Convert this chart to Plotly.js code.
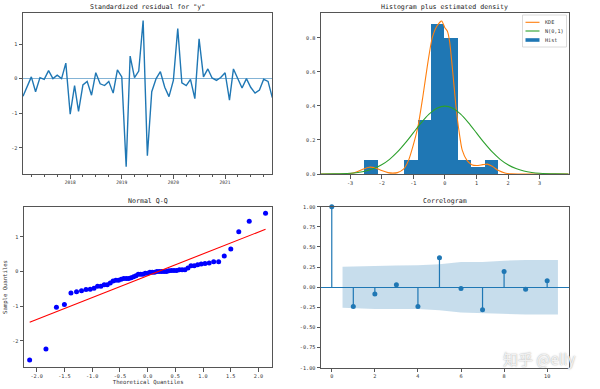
<!DOCTYPE html>
<html>
<head>
<meta charset="utf-8">
<script src="https://cdn.plot.ly/plotly-3.0.1.min.js"></script>
<style>html,body{margin:0;padding:0;background:#fff;}#chart{width:600px;height:389px;}</style>
</head>
<body>
<div id="chart"></div>
<script>
// ---------- Data ----------
const residDates = [
  '2017-02-01','2017-03-01','2017-04-01','2017-05-01','2017-06-01','2017-07-01','2017-08-01','2017-09-01','2017-10-01','2017-11-01','2017-12-01',
  '2018-01-01','2018-02-01','2018-03-01','2018-04-01','2018-05-01','2018-06-01','2018-07-01','2018-08-01','2018-09-01','2018-10-01','2018-11-01','2018-12-01',
  '2019-01-01','2019-02-01','2019-03-01','2019-04-01','2019-05-01','2019-06-01','2019-07-01','2019-08-01','2019-09-01','2019-10-01','2019-11-01','2019-12-01',
  '2020-01-01','2020-02-01','2020-03-01','2020-04-01','2020-05-01','2020-06-01','2020-07-01','2020-08-01','2020-09-01','2020-10-01','2020-11-01','2020-12-01',
  '2021-01-01','2021-02-01','2021-03-01','2021-04-01','2021-05-01','2021-06-01','2021-07-01','2021-08-01','2021-09-01','2021-10-01','2021-11-01','2021-12-01'
];
const residValues = [
  -0.51,-0.22,0.05,-0.38,0.03,-0.02,0.23,0.00,0.10,0.00,0.45,
  -1.03,-0.20,-0.95,-0.18,-0.08,-0.48,0.17,-0.15,-0.20,-0.08,-0.42,0.25,
  0.05,-2.55,0.65,0.03,0.22,1.68,-2.23,-0.38,0.00,0.20,-0.25,-0.52,
  -0.05,1.45,-0.12,-0.20,-0.02,-0.58,1.15,0.05,0.28,0.02,-0.05,0.03,
  0.17,-0.62,0.28,0.00,-0.27,0.00,-0.25,-0.42,-0.33,-0.02,-0.08,-0.55
];
const residTickVals = ['2018-01-01','2019-01-01','2020-01-01','2021-01-01'];
const residTickText = ['2018','2019','2020','2021'];

// Histogram (density) bins
const histCenters = [-2.338,-1.916,-1.493,-1.070,-0.647,-0.224,0.200,0.623,1.046,1.469];
const histHeights = [0.08,0.0,0.0,0.08,0.32,0.88,0.80,0.08,0.04,0.08];
const histBinWidth = 0.423;
// KDE curve
const kdeX = [-3.92,-3.4,-3.0,-2.8,-2.6,-2.4,-2.2,-2.0,-1.8,-1.65,-1.5,-1.3,-1.15,-1.0,-0.85,-0.7,-0.55,-0.4,-0.25,-0.1,0.0,0.08,0.15,0.25,0.35,0.45,0.55,0.7,0.85,1.0,1.2,1.35,1.5,1.7,1.9,2.1,2.5,3.0,3.92];
const kdeY = [0.0,0.0,0.003,0.012,0.028,0.040,0.036,0.020,0.008,0.005,0.008,0.03,0.08,0.17,0.28,0.45,0.64,0.80,0.87,0.90,0.86,0.84,0.78,0.60,0.40,0.25,0.14,0.08,0.055,0.05,0.055,0.058,0.045,0.02,0.006,0.001,0.0,0.0,0.0];
// N(0,1) curve
const normX = [-3.92,-3.5,-3.0,-2.75,-2.5,-2.25,-2.0,-1.75,-1.5,-1.25,-1.0,-0.75,-0.5,-0.25,0.0,0.25,0.5,0.75,1.0,1.25,1.5,1.75,2.0,2.25,2.5,2.75,3.0,3.5,3.92];
const normY = [0.0002,0.0009,0.0044,0.0091,0.0175,0.0317,0.054,0.0863,0.1295,0.1826,0.242,0.3011,0.3521,0.3867,0.3989,0.3867,0.3521,0.3011,0.242,0.1826,0.1295,0.0863,0.054,0.0317,0.0175,0.0091,0.0044,0.0009,0.0002];
const legendLabels = ['KDE', 'N(0,1)', 'Hist'];

// Normal Q-Q
const qqTheoretical = [-2.128,-1.834,-1.645,-1.501,-1.383,-1.282,-1.192,-1.111,-1.036,-0.967,-0.903,-0.842,-0.783,-0.728,-0.674,-0.623,-0.573,-0.524,-0.477,-0.431,-0.385,-0.341,-0.297,-0.253,-0.210,-0.168,-0.126,-0.084,-0.042,0.0,
  0.042,0.084,0.126,0.168,0.210,0.253,0.297,0.341,0.385,0.431,0.477,0.524,0.573,0.623,0.674,0.728,0.783,0.842,0.903,0.967,1.036,1.111,1.192,1.282,1.383,1.501,1.645,1.834,2.128];
const qqSample = [-2.55,-2.23,-1.03,-0.95,-0.62,-0.58,-0.55,-0.52,-0.51,-0.48,-0.42,-0.42,-0.38,-0.38,-0.33,-0.27,-0.25,-0.25,-0.22,-0.20,-0.20,-0.20,-0.18,-0.15,-0.12,-0.08,-0.08,-0.08,-0.05,-0.05,
  -0.02,-0.02,-0.02,0.00,0.00,0.00,0.00,0.00,0.02,0.03,0.03,0.03,0.05,0.05,0.05,0.10,0.17,0.17,0.20,0.22,0.23,0.25,0.28,0.28,0.45,0.65,1.15,1.45,1.68];
const qqLineX = [-2.128, 2.128];
const qqLineY = [-1.46, 1.22];

// Correlogram
const acfLags = [0,1,2,3,4,5,6,7,8,9,10];
const acfValues = [1.0,-0.241,-0.083,0.029,-0.241,0.366,-0.017,-0.279,0.196,-0.025,0.079];
const confX = [0.5,2,3,4,5,6,7,8,9,10.5];
const confUpper = [0.255,0.270,0.271,0.272,0.285,0.314,0.314,0.330,0.338,0.338];

// ---------- Styling ----------
const C0 = '#1f77b4';
const ORANGE = '#ff7f0e', GREEN = '#2ca02c';
const FONT = 'DejaVu Sans Mono, Liberation Mono, monospace';
const tickFont = {family: FONT, size: 5.2, color: '#333'};
const axisBase = {
  showgrid: false, zeroline: false, showline: true, mirror: true,
  linecolor: '#555', linewidth: 1, ticks: 'outside', ticklen: 3.5,
  tickcolor: '#555', tickwidth: 1, tickfont: tickFont, fixedrange: true
};
function ax(o) { return Object.assign({}, axisBase, o); }
function fmt(v, d) { return v.toFixed(d); }

// ---------- Traces ----------
const traces = [];
traces.push({
  type: 'scatter', mode: 'lines', x: residDates, y: residValues,
  xaxis: 'x', yaxis: 'y', line: {color: C0, width: 1.4}, showlegend: false
});
traces.push({
  type: 'bar', x: histCenters, y: histHeights, width: histBinWidth,
  xaxis: 'x2', yaxis: 'y2', marker: {color: C0, line: {width: 0}},
  name: legendLabels[2], showlegend: false
});
traces.push({
  type: 'scatter', mode: 'lines', x: kdeX, y: kdeY, xaxis: 'x2', yaxis: 'y2',
  line: {color: ORANGE, width: 1.1, shape: 'spline', smoothing: 0.6},
  name: legendLabels[0], showlegend: false
});
traces.push({
  type: 'scatter', mode: 'lines', x: normX, y: normY, xaxis: 'x2', yaxis: 'y2',
  line: {color: GREEN, width: 1.1, shape: 'spline', smoothing: 0.8},
  name: legendLabels[1], showlegend: false
});
traces.push({
  type: 'scatter', mode: 'markers', x: qqTheoretical, y: qqSample, xaxis: 'x3', yaxis: 'y3',
  marker: {color: '#0000ff', size: 5}, showlegend: false
});
traces.push({
  type: 'scatter', mode: 'lines', x: qqLineX, y: qqLineY, xaxis: 'x3', yaxis: 'y3',
  line: {color: '#ff0000', width: 1.1}, showlegend: false
});
const bandX = confX.concat(confX.slice().reverse());
const bandY = confUpper.concat(confUpper.slice().reverse().map(v => -v));
traces.push({
  type: 'scatter', mode: 'lines', x: bandX, y: bandY, xaxis: 'x4', yaxis: 'y4',
  fill: 'toself', fillcolor: 'rgba(31,119,180,0.25)', line: {width: 0}, showlegend: false, hoverinfo: 'skip'
});
const stemX = [], stemY = [];
acfLags.forEach((l, i) => { stemX.push(l, l, null); stemY.push(0, acfValues[i], null); });
traces.push({
  type: 'scatter', mode: 'lines', x: stemX, y: stemY, xaxis: 'x4', yaxis: 'y4',
  line: {color: C0, width: 1.2}, showlegend: false, hoverinfo: 'skip'
});
traces.push({
  type: 'scatter', mode: 'markers', x: acfLags, y: acfValues, xaxis: 'x4', yaxis: 'y4',
  marker: {color: C0, size: 5}, showlegend: false, cliponaxis: false
});

// ---------- Layout ----------
const W = 600, H = 389;
const px = v => v / W, py = v => 1 - v / H;
const histTicks = [-3,-2,-1,0,1,2,3];
const histYTicks = [0,0.2,0.4,0.6,0.8];
const qqXTicks = [-2,-1.5,-1,-0.5,0,0.5,1,1.5,2];
const qqYTicks = [-2,-1,0,1];
const acfXTicks = [0,2,4,6,8,10];
const acfYTicks = [-1,-0.75,-0.5,-0.25,0,0.25,0.5,0.75,1];

function title(text, x, y) {
  return {text: text, x: px(x), y: py(y), xref: 'paper', yref: 'paper', xanchor: 'center', yanchor: 'middle',
          showarrow: false, font: {family: FONT, size: 6.6, color: '#222'}};
}

// Legend box for the histogram panel (paper pixel geometry)
const legendShapes = [
  {type: 'rect', xref: 'paper', yref: 'paper', x0: px(522.5), x1: px(566.5), y0: py(47), y1: py(15),
   line: {color: '#d0d0d0', width: 0.8}, fillcolor: 'rgba(255,255,255,0.8)', layer: 'above'},
  {type: 'line', xref: 'paper', yref: 'paper', x0: px(525.5), x1: px(539.5), y0: py(22.3), y1: py(22.3),
   line: {color: ORANGE, width: 1.1}, layer: 'above'},
  {type: 'line', xref: 'paper', yref: 'paper', x0: px(525.5), x1: px(539.5), y0: py(31), y1: py(31),
   line: {color: GREEN, width: 1.1}, layer: 'above'},
  {type: 'rect', xref: 'paper', yref: 'paper', x0: px(525.5), x1: px(539.5), y0: py(41.8), y1: py(38.2),
   line: {width: 0}, fillcolor: C0, layer: 'above'}
];
const legendY = [22.3, 31, 40];
const legendAnns = legendLabels.map((t, i) => ({
  text: t, x: px(543), y: py(legendY[i]), xref: 'paper', yref: 'paper', xanchor: 'left', yanchor: 'middle',
  showarrow: false, font: {family: FONT, size: 5.2, color: '#333'}
}));

const layout = {
  width: W, height: H, margin: {l: 0, r: 0, t: 0, b: 0},
  paper_bgcolor: '#fff', plot_bgcolor: '#fff',
  font: {family: FONT, size: 5.2, color: '#333'},
  showlegend: false, bargap: 0,
  xaxis: ax({domain: [px(23), px(272.3)], anchor: 'y', type: 'date',
    range: ['2017-02-01', '2021-12-01'], tickvals: residTickVals, ticktext: residTickText,
    tickfont: {family: FONT, size: 4.6, color: '#333'},
    minor: {dtick: 'M3', tick0: '2017-01-01', ticklen: 2, tickcolor: '#555', ticks: 'outside', showgrid: false}}),
  yaxis: ax({domain: [py(174), py(13.3)], anchor: 'x', range: [-2.76, 1.89],
    tickvals: [-2,-1,0,1], ticktext: ['-2','-1','0','1'],
    zeroline: true, zerolinecolor: 'rgba(31,119,180,0.55)', zerolinewidth: 1}),
  xaxis2: ax({domain: [px(321), px(568.7)], anchor: 'y2', range: [-3.92, 3.92],
    tickvals: histTicks, ticktext: histTicks.map(v => String(v))}),
  yaxis2: ax({domain: [py(174), py(13.3)], anchor: 'x2', range: [0, 0.945],
    tickvals: histYTicks, ticktext: histYTicks.map(v => fmt(v, 1))}),
  xaxis3: ax({domain: [px(24), px(272.3)], anchor: 'y3', range: [-2.23, 2.25],
    tickvals: qqXTicks, ticktext: qqXTicks.map(v => fmt(v, 1)),
    title: {text: 'Theoretical Quantiles', font: {family: FONT, size: 5.6, color: '#333'}, standoff: 2}}),
  yaxis3: ax({domain: [py(367.3), py(206.7)], anchor: 'x3', range: [-2.76, 1.87],
    tickvals: qqYTicks, ticktext: qqYTicks.map(v => String(v)),
    title: {text: 'Sample Quantiles', font: {family: FONT, size: 5.6, color: '#333'}, standoff: 4}}),
  xaxis4: ax({domain: [px(321), px(568.7)], anchor: 'y4', range: [-0.5, 11.0],
    tickvals: acfXTicks, ticktext: acfXTicks.map(v => String(v))}),
  yaxis4: ax({domain: [py(367.7), py(206.7)], anchor: 'x4', range: [-1, 1],
    tickvals: acfYTicks, ticktext: acfYTicks.map(v => fmt(v, 2)),
    zeroline: true, zerolinecolor: C0, zerolinewidth: 1.2}),
  shapes: legendShapes,
  annotations: [
    title('Standardized residual for "y"', 147.6, 7),
    title('Histogram plus estimated density', 444.9, 7),
    title('Normal Q-Q', 148, 200.5),
    title('Correlogram', 444.9, 200.5),
    {text: '知乎 @elly', x: px(539), y: py(358.5), xref: 'paper', yref: 'paper', xanchor: 'center', yanchor: 'middle', showarrow: false,
     font: {family: 'Noto Sans CJK SC, sans-serif', size: 15, color: 'rgba(250,250,250,0.9)', shadow: '0px 0px 1.5px #888'}}
  ].concat(legendAnns)
};

Plotly.newPlot('chart', traces, layout, {displayModeBar: false, staticPlot: true});
</script>
</body>
</html>
